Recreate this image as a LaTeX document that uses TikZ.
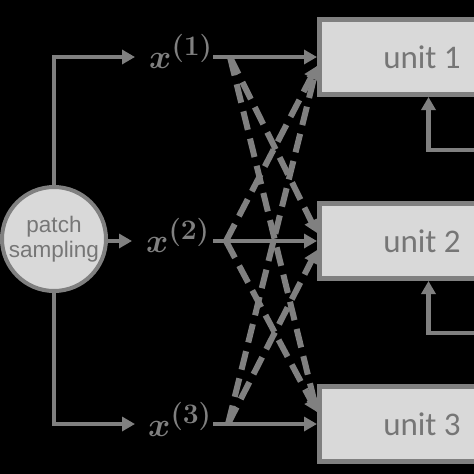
\documentclass[tikz,border=0pt]{standalone}
\usepackage{fontspec}
\setsansfont{Liberation Sans}
\newfontfamily\unitfont{Carlito}
\usetikzlibrary{arrows.meta}
\definecolor{linegray}{RGB}{128,128,128}
\definecolor{fillgray}{RGB}{217,217,217}
\definecolor{textgray}{RGB}{118,118,118}
\newcommand{\patchlabel}[1]{\scalebox{1.36}{\Huge\boldmath$x^{(#1)}$}}

\begin{document}
\begin{tikzpicture}[x=1pt,y=-1pt]
		\tikzstyle{every node}+=[inner sep=0pt]
		\tikzstyle{feed}=[draw=linegray, line width=4.5pt, -{Triangle[length=13pt,width=14pt]}]
		\tikzstyle{cross}=[feed, line width=6pt, dash pattern=on 19pt off 9pt]
		\tikzstyle{unitbox}=[draw=linegray, line width=5pt, fill=fillgray, minimum width=210pt, minimum height=75pt, anchor=west, text=textgray, font=\unitfont\fontsize{33}{33}\selectfont]
		\tikzstyle{xlabel}=[text=linegray, anchor=base]
		\fill [black] (0,0) rectangle (474,474);
		\useasboundingbox (0,0) rectangle (474,474);
		\clip (0,0) rectangle (474,474);
		\node [circle, draw=linegray, line width=4pt, fill=fillgray, minimum size=104pt, align=center, text=textgray, font=\sffamily\fontsize{22.5}{25}\selectfont] (sampler) at (54,239) {patch\\sampling};
		\node [unitbox] (u1) at (317,57) {\hspace*{-5pt}unit 1};
		\node [unitbox] (u2) at (317,241) {\hspace*{-5pt}unit 2};
		\node [unitbox] (u3) at (317,424) {\hspace*{-5pt}unit 3};
		\node [xlabel] (x1) at (181,68) {\patchlabel{1}};
		\node [xlabel] (x2) at (178,252) {\patchlabel{2}};
		\node [xlabel] (x3) at (180,436) {\patchlabel{3}};
		\coordinate (x1in) at (135,57);
		\coordinate (x1out) at (213,57);
		\coordinate (x1src) at (230,57);
		\coordinate (x2in) at (132,241);
		\coordinate (x2out) at (213,241);
		\coordinate (x2src) at (226,241);
		\coordinate (x3in) at (135,424);
		\coordinate (x3out) at (213,424);
		\coordinate (x3src) at (228,424);
		\coordinate (fb1) at (474,150);
		\coordinate (fb2) at (474,333);
		% sampling to the patches
		\draw [feed] (sampler.north) |- (x1in);
		\draw [feed] (sampler.east |- x2in) -- (x2in);
		\draw [feed] (sampler.south) |- (x3in);
		% patches to the units
		\draw [feed] (x1out) -- (u1.west);
		\draw [feed] (x2out) -- (u2.west);
		\draw [feed] (x3out) -- (u3.west);
		\draw [cross] (x2src) -- ([yshift=-9pt]u1.west);
		\draw [cross] (x3src) -- ([yshift=-9pt]u1.west);
		\draw [cross] (x1src) -- ([yshift=8pt]u2.west);
		\draw [cross] (x3src) -- ([yshift=-9pt]u2.west);
		\draw [cross] (x1src) -- ([yshift=12pt]u3.west);
		\draw [cross] (x2src) -- ([yshift=12pt]u3.west);
		% feedback
		\draw [feed] (fb1) -| ([xshift=4pt]u1.south);
		\draw [feed] (fb2) -| ([xshift=4pt]u2.south);
\end{tikzpicture}
\end{document}
